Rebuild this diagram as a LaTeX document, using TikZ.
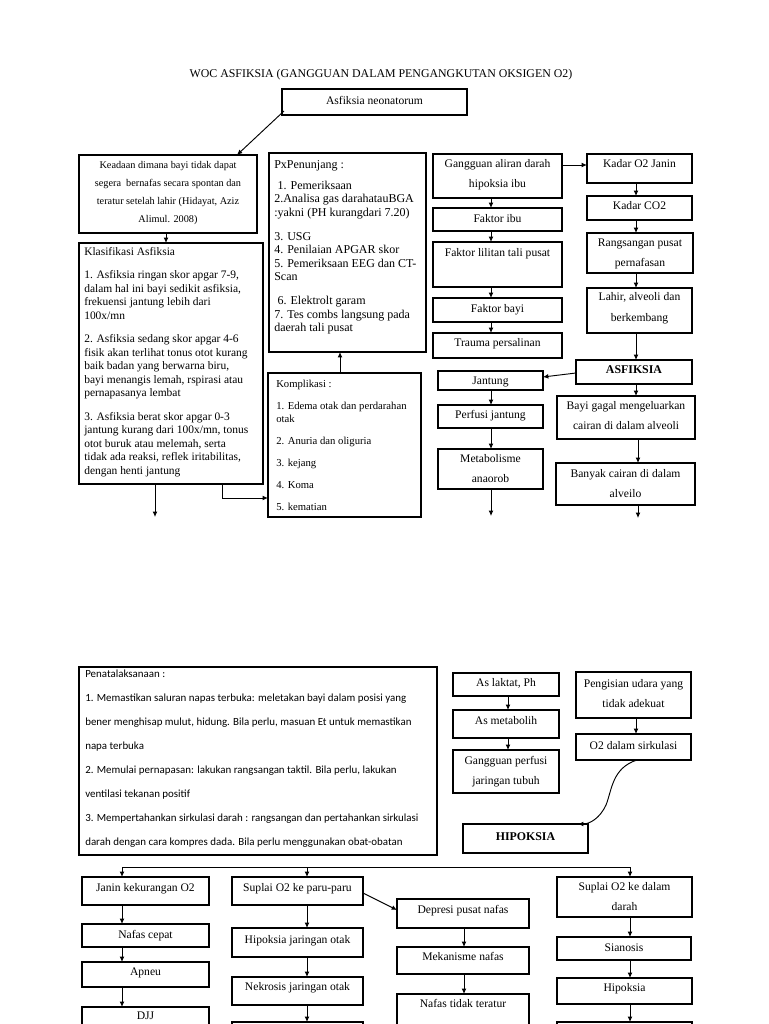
\documentclass[tikz,border=0pt]{standalone}
\usepackage{fontspec}
\setmainfont{Liberation Serif}
\newfontfamily\calfont{Carlito}
\usetikzlibrary{arrows.meta,fit,calc}
\newcommand\ctb[1]{\begin{tabular}[t]{@{}c@{}}#1\end{tabular}}
\newcommand\ltb[1]{\begin{tabular}[t]{@{}l@{}}#1\end{tabular}}
\newcommand\bx[5]{\node[bx, fit={(#2,#3)(#4,#5)}] (#1) {};}
\newcommand\tx[5][]{\node[tx,#1] (#2) at (#3,#4) {\ctb{#5}};}
\begin{document}
\begin{tikzpicture}[x=0.75pt,y=-0.75pt,
  bx/.style={draw, line width=0.8pt, inner sep=0pt, outer sep=0pt},
  tx/.style={anchor=base, inner sep=0pt, font=\fontsize{8.7}{15}\selectfont},
  lt/.style={anchor=base west, inner sep=0pt},
  arr/.style={line width=0.7pt, -{Latex[length=4pt,width=3.6pt]}},
  ln/.style={line width=0.7pt}]
\useasboundingbox (0,0) rectangle (768,1024);
\fill[white] (0,0) rectangle (768,1024);
\clip (0,0) rectangle (768,1024);

% ---------- column coordinates ----------
\coordinate (c122) at (122,0);
\coordinate (c166) at (166,0);
\coordinate (c307) at (307,0);
\coordinate (c340) at (340,0);
\coordinate (c464) at (464,0);
\coordinate (c491) at (491,0);
\coordinate (c508) at (508,0);
\coordinate (c630) at (630,0);
\coordinate (c636) at (636,0);
\coordinate (c638) at (638,0);
\coordinate (r165) at (0,165);

% ---------- title ----------
\node[tx, font=\fontsize{8.9}{11}\selectfont] (title) at (381,78) {WOC ASFIKSIA (GANGGUAN DALAM PENGANGKUTAN OKSIGEN O2)};

% ---------- upper half ----------
\bx{neo}{282}{89}{467}{115}
\tx{neoT}{374.5}{104.5}{Asfiksia neonatorum}

\bx{kead}{79}{155}{257}{233}
\tx[font=\fontsize{7.7}{13.7}\selectfont]{keadT}{168}{168}{Keadaan dimana bayi tidak dapat\\segera\ \ bernafas secara spontan dan\\teratur setelah lahir (Hidayat, Aziz\\Alimul. 2008)}

\bx{klas}{79}{243}{263}{484}
\node[lt, font=\fontsize{8.6}{10.1}\selectfont] (klasT) at (84,255.5) {\ltb{Klasifikasi Asfiksia\\[7.5pt]
1. Asfiksia ringan skor apgar 7-9,\\ dalam hal ini bayi sedikit asfiksia,\\ frekuensi jantung lebih dari\\ 100x/mn\\[7.5pt]
2. Asfiksia sedang skor apgar 4-6\\ fisik akan terlihat tonus otot kurang\\ baik badan yang berwarna biru,\\ bayi menangis lemah, rspirasi atau\\ pernapasanya lembat\\[7.5pt]
3. Asfiksia berat skor apgar 0-3\\ jantung kurang dari 100x/mn, tonus\\ otot buruk atau melemah, serta\\ tidak ada reaksi, reflek iritabilitas,\\ dengan henti jantung}};

\bx{px}{269}{153}{426}{352}
\node[lt, font=\fontsize{9}{10.1}\selectfont] (pxT) at (274,168.5) {\ltb{PxPenunjang :\\[5.6pt]
\hspace*{2.5pt}1. Pemeriksaan\\ 2.Analisa gas darahatauBGA\\ :yakni (PH kurangdari 7.20)\\[7.9pt]
3. USG\\ 4. Penilaian APGAR skor\\ 5. Pemeriksaan EEG dan CT-\\ Scan\\[7.9pt]
\hspace*{2.5pt}6. Elektrolt garam\\ 7. Tes combs langsung pada\\ daerah tali pusat}};

\bx{komp}{268}{373}{421}{517}
\node[lt, font=\fontsize{8}{9.75}\selectfont] (kompT) at (276,387) {\ltb{Komplikasi :\\[6.75pt]
1. Edema otak dan perdarahan\\ otak\\[6.75pt]
2. Anuria dan oliguria\\[6.75pt]
3. kejang\\[6.75pt]
4. Koma\\[6.75pt]
5. kematian}};

\bx{gang}{433}{154}{562}{198}
\tx{gangT}{497.5}{167.5}{Gangguan aliran darah\\hipoksia ibu}
\bx{fibu}{433}{208}{562}{231}
\tx{fibuT}{497.5}{222.5}{Faktor ibu}
\bx{flil}{433}{242}{562}{287}
\tx{flilT}{497.5}{256.5}{Faktor lilitan tali pusat}
\bx{fbayi}{433}{298}{562}{322}
\tx{fbayiT}{497.5}{312.5}{Faktor bayi}
\bx{trauma}{433}{333}{562}{358}
\tx{traumaT}{497.5}{346.5}{Trauma persalinan}

\bx{ko2}{587}{154}{692}{183}
\tx{ko2T}{639.5}{167.5}{Kadar O2 Janin}
\bx{kco2}{587}{196}{692}{220}
\tx{kco2T}{639.5}{209.5}{Kadar CO2}
\bx{rang}{587}{233}{693}{273}
\tx{rangT}{640}{246.5}{Rangsangan pusat\\pernafasan}
\bx{lahir}{587}{288}{692}{333}
\tx[font=\fontsize{8.7}{15.7}\selectfont]{lahirT}{639.5}{300.5}{Lahir, alveoli dan\\berkembang}

\bx{asf}{576}{360}{692}{384}
\tx[font=\fontsize{8.9}{11}\selectfont\bfseries]{asfT}{634}{373}{ASFIKSIA}

\bx{jant}{438}{371}{543}{390}
\tx{jantT}{490.5}{384.5}{Jantung}
\bx{perf}{438}{405}{543}{428}
\tx{perfT}{490.5}{418.5}{Perfusi jantung}
\bx{metab}{438}{449}{543}{489}
\tx{metabT}{490.5}{462.5}{Metabolisme\\anaorob}

\bx{bayi}{557}{396}{695}{439}
\tx{bayiT}{626}{409.5}{Bayi gagal mengeluarkan\\cairan di dalam alveoli}
\bx{banyak}{556}{463}{695}{505}
\tx{banyakT}{625.5}{477.5}{Banyak cairan di dalam\\alveilo}

% upper connectors
\draw[arr] ($(neo.south west)+(2,-4)$) -- ($(kead.north west)+(158,0)$);
\draw[arr] (kead.south -| c166) -- (klas.north -| c166);
\coordinate (e1) at (155,517);
\draw[arr] (klas.south -| e1) -- (e1);
\coordinate (k1) at (222,498);
\draw[arr] (klas.south -| k1) -- (k1) -- (komp.west |- k1);
\draw[arr] (komp.north -| c340) -- (px.south -| c340);
\draw[arr] (gang.east |- r165) -- (ko2.west |- r165);
\draw[arr] (gang.south -| c491) -- (fibu.north -| c491);
\draw[arr] (fibu.south -| c491) -- (flil.north -| c491);
\draw[arr] (flil.south -| c491) -- (fbayi.north -| c491);
\draw[arr] (fbayi.south -| c491) -- (trauma.north -| c491);
\draw[arr] (ko2.south -| c636) -- (kco2.north -| c636);
\draw[arr] (kco2.south -| c636) -- (rang.north -| c636);
\draw[arr] (rang.south -| c636) -- (lahir.north -| c636);
\draw[arr] (lahir.south -| c636) -- (asf.north -| c636);
\draw[arr] ($(asf.west)+(0,1)$) -- ($(jant.east)+(0,-3.5)$);
\draw[arr] (jant.south -| c491) -- (perf.north -| c491);
\draw[arr] (perf.south -| c491) -- (metab.north -| c491);
\coordinate (e2) at (491,516);
\draw[arr] (metab.south -| c491) -- (e2);
\draw[arr] (asf.south -| c636) -- (bayi.north -| c636);
\draw[arr] (bayi.south -| c638) -- (banyak.north -| c638);
\coordinate (e3) at (638,518);
\draw[arr] (banyak.south -| c638) -- (e3);

% ---------- lower half ----------
\bx{pen}{79}{667}{437}{855}
\node[lt, font=\calfont\fontsize{8.2}{18}\selectfont] (penT) at (85,677.5) {\ltb{Penatalaksanaan :\\
1. Memastikan saluran napas terbuka: meletakan bayi dalam posisi yang\\
bener menghisap mulut, hidung. Bila perlu, masuan Et untuk memastikan\\
napa terbuka\\
2. Memulai pernapasan: lakukan rangsangan taktil. Bila perlu, lakukan\\
ventilasi tekanan positif\\
3. Mempertahankan sirkulasi darah : rangsangan dan pertahankan sirkulasi\\
darah dengan cara kompres dada. Bila perlu menggunakan obat-obatan}};

\bx{laktat}{453}{673}{559}{696}
\tx{laktatT}{506}{686.5}{As laktat, Ph}
\bx{asmet}{453}{710}{559}{738}
\tx{asmetT}{506}{724.5}{As metabolih}
\bx{gperf}{453}{750}{559}{793}
\tx{gperfT}{506}{764.5}{Gangguan perfusi\\jaringan tubuh}

\bx{peng}{576}{672}{691}{718}
\tx{pengT}{633.5}{687.5}{Pengisian udara yang\\tidak adekuat}
\bx{o2s}{576}{734}{691}{760}
\tx{o2sT}{633.5}{749.5}{O2 dalam sirkulasi}

\bx{hip}{463}{824}{588}{853}
\tx[font=\fontsize{8.9}{11}\selectfont\bfseries]{hipT}{525.5}{840.5}{HIPOKSIA}

\bx{janin}{82}{877}{209}{905}
\tx{janinT}{145.5}{891.5}{Janin kekurangan O2}
\bx{nafas}{82}{924}{209}{947}
\tx{nafasT}{145.5}{938.5}{Nafas cepat}
\bx{apneu}{82}{962}{209}{987}
\tx{apneuT}{145.5}{975.5}{Apneu}
\bx{djj}{82}{1007}{209}{1045}
\tx{djjT}{145.5}{1019.5}{DJJ}

\bx{supp}{232}{877}{363}{905}
\tx{suppT}{297.5}{891.5}{Suplai O2 ke paru-paru}
\bx{hjo}{232}{928}{363}{957}
\tx{hjoT}{297.5}{943.5}{Hipoksia jaringan otak}
\bx{nek}{232}{977}{363}{1005}
\tx{nekT}{297.5}{990.5}{Nekrosis jaringan otak}
\bx{bot2}{232}{1022}{363}{1045}

\bx{dep}{397}{899}{529}{928}
\tx{depT}{463}{913.5}{Depresi pusat nafas}
\bx{mek}{397}{947}{529}{974}
\tx{mekT}{463}{960.5}{Mekanisme nafas}
\bx{ntt}{397}{994}{529}{1045}
\tx{nttT}{463}{1007.5}{Nafas tidak teratur}

\bx{supd}{557}{877}{692}{917}
\tx{supdT}{624.5}{890.5}{Suplai O2 ke dalam\\darah}
\bx{sian}{557}{937}{691}{960}
\tx{sianT}{624}{951.5}{Sianosis}
\bx{hipk}{557}{978}{692}{1004}
\tx{hipkT}{624.5}{991.5}{Hipoksia}
\bx{bot4}{557}{1022}{692}{1045}

% lower connectors
\draw[arr] (laktat.south -| c508) -- (asmet.north -| c508);
\draw[arr] (asmet.south -| c508) -- (gperf.north -| c508);
\draw[arr] (peng.south -| c636) -- (o2s.north -| c636);
\draw[arr] ($(o2s.south)+(3.5,0)$) .. controls (612,768) and (612,790) .. (606,805)
  .. controls (600,818) and (590,824) .. ($(hip.north east)+(-10,0)$);

\coordinate (h1) at (122,867);
\coordinate (h3) at (630,867);
\draw[ln] (h1) -- (h3);
\draw[arr] (h1) -- (janin.north -| h1);
\draw[arr] (c307 |- h1) -- (supp.north -| c307);
\draw[arr] (h3) -- (supd.north -| h3);

\draw[arr] (janin.south -| c122) -- (nafas.north -| c122);
\draw[arr] (nafas.south -| c122) -- (apneu.north -| c122);
\draw[arr] (apneu.south -| c122) -- (djj.north -| c122);
\draw[arr] (supp.south -| c307) -- (hjo.north -| c307);
\draw[arr] (hjo.south -| c307) -- (nek.north -| c307);
\draw[arr] (nek.south -| c307) -- (bot2.north -| c307);
\draw[arr] ($(supp.east)+(0,2)$) -- ($(dep.west)+(0,-3.5)$);
\draw[arr] (dep.south -| c464) -- (mek.north -| c464);
\draw[arr] (mek.south -| c464) -- (ntt.north -| c464);
\draw[arr] (supd.south -| c630) -- (sian.north -| c630);
\draw[arr] (sian.south -| c630) -- (hipk.north -| c630);
\draw[arr] (hipk.south -| c630) -- (bot4.north -| c630);
\end{tikzpicture}
\end{document}
